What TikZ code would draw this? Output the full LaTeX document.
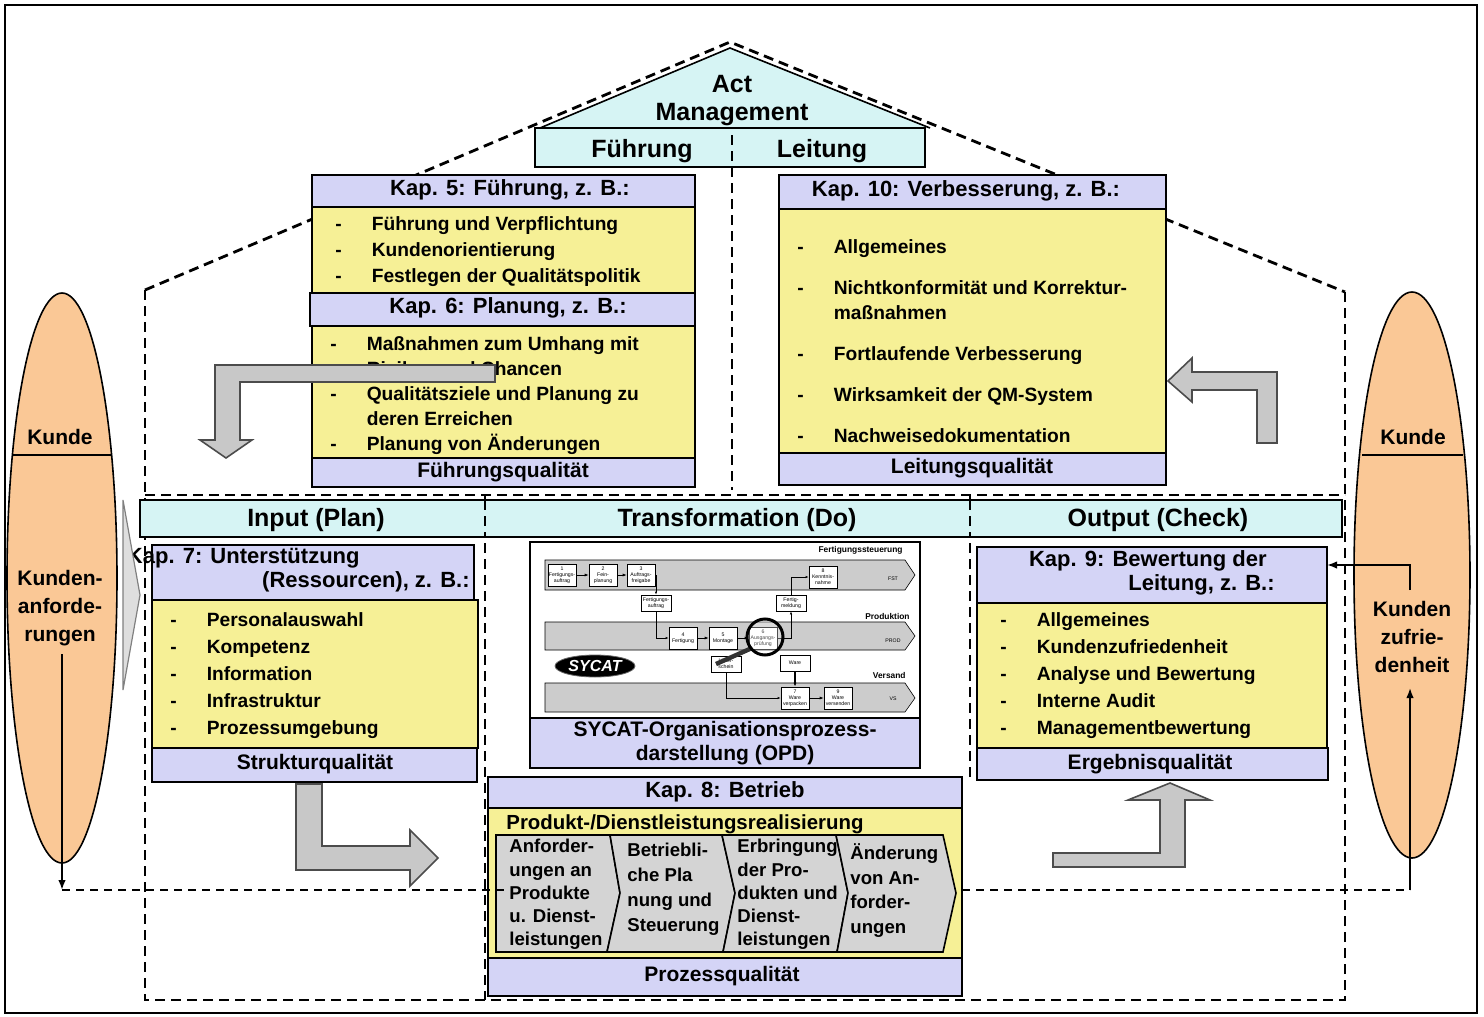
\documentclass[tikz,border=0pt]{standalone}
\usepackage{fontspec}
\setmainfont{Liberation Sans}
\usetikzlibrary{arrows.meta,shapes.geometric}
\definecolor{qmcyan}{RGB}{214,244,244}
\definecolor{qmlav}{RGB}{212,212,246}
\definecolor{qmyel}{RGB}{246,240,150}
\definecolor{qmorange}{RGB}{250,200,150}
\definecolor{qmgrey}{RGB}{200,200,200}
\newcommand{\hdrfont}{\fontsize{11}{12}\selectfont\bfseries}
\newcommand{\itemfont}{\fontsize{9.6}{13}\selectfont\bfseries}
\newcommand{\tinyfont}{\fontsize{2.6}{3}\selectfont}
\begin{document}
\begin{tikzpicture}[
    x=0.5pt, y=-0.5pt,
    box/.style={draw, line width=0.8pt},
    hdr/.style={box, fill=qmlav},
    body/.style={box, fill=qmyel},
    band/.style={box, fill=qmcyan},
    txt/.style={font=\hdrfont, inner sep=0pt},
    items/.style={font=\itemfont, inner sep=0pt, align=left, anchor=north west},
    dsh/.style={line width=1.4pt, dash pattern=on 5pt off 3pt},
    blockarrow/.style={draw=black!70, fill=qmgrey, line width=0.8pt},
    lane/.style={draw, fill=black!20, line width=0.3pt},
    opstep/.style={draw, fill=white, line width=0.3pt, font=\tinyfont, align=center, inner sep=0.5pt, minimum width=14pt, minimum height=11pt},
    docu/.style={draw, fill=white, line width=0.3pt, font=\tinyfont, align=center, inner sep=0.5pt, minimum width=15pt, minimum height=8pt},
    chev/.style={draw, fill=black!17, line width=0.8pt},
    feed/.style={line width=0.8pt}
]
\useasboundingbox (0,0) rectangle (1484,1017);
\draw[line width=1.2pt] (5,5) rectangle (1477,1013);

% House frame
\draw[dsh] (145,290) -- (730,42) -- (1345,292);
\draw[dsh] (145,290) -- (145,1000) -- (1345,1000) -- (1345,292);
\draw[dsh] (145,495) -- (1345,495);
\draw[dsh] (485,495) -- (485,1000);
\draw[dsh] (970,495) -- (970,780);

% Roof
\fill[qmcyan] (540,128) -- (730,48) -- (930,128) -- cycle;
\draw[line width=0.8pt] (540,128) -- (730,48) -- (930,128);
\node[txt, font=\fontsize{12.5}{14}\selectfont\bfseries] (act) at (732,84) {Act};
\node[txt, font=\fontsize{12.5}{14}\selectfont\bfseries] (mgmt) at (732,115) {Management};
\draw[band] (535,128) rectangle (925,167);
\node[txt, font=\fontsize{12.5}{14}\selectfont\bfseries] (fuehrung) at (642,151) {Führung};
\node[txt, font=\fontsize{12.5}{14}\selectfont\bfseries] (leitung) at (822,151) {Leitung};
\draw[dsh] (732,135) -- (732,490);

% Kap. 5 and 6
\draw[hdr] (312,175) rectangle (695,207);
\node[txt] (k5) at (510,190) {Kap. 5: Führung, z. B.:};
\draw[body] (312,207) rectangle (695,293);
\node[items] (k5items) at (335,212) {\begin{tabular}{@{}l@{\hspace{15pt}}l@{}}
- & Führung und Verpflichtung\\
- & Kundenorientierung\\
- & Festlegen der Qualitätspolitik
\end{tabular}};
\draw[hdr] (310,293) rectangle (695,326);
\node[txt] (k6) at (508,308) {Kap. 6: Planung, z. B.:};
\draw[body] (312,326) rectangle (695,458);
\node[items, font=\fontsize{9.6}{12.6}\selectfont\bfseries] (k6items) at (330,332) {\begin{tabular}{@{}l@{\hspace{15pt}}l@{}}
- & Maßnahmen zum Umhang mit\\
  & Risiken und Chancen\\
- & Qualitätsziele und Planung zu\\
  & deren Erreichen\\
- & Planung von Änderungen
\end{tabular}};
\draw[hdr] (312,458) rectangle (695,487);
\node[txt, font=\fontsize{10.5}{12}\selectfont\bfseries] (fq) at (503,472) {Führungsqualität};

% Kap. 10
\draw[hdr] (779,175) rectangle (1166,209);
\node[txt] (k10) at (966,191) {Kap. 10: Verbesserung, z. B.:};
\draw[body] (779,209) rectangle (1166,453);
\node[items, font=\fontsize{9.6}{20.5}\selectfont\bfseries] (k10items) at (797,224) {\begin{tabular}{@{}l@{\hspace{15pt}}l@{}}
- & Allgemeines\\
- & Nichtkonformität und Korrektur-\\[-8pt]
  & maßnahmen\\
- & Fortlaufende Verbesserung\\
- & Wirksamkeit der QM-System\\
- & Nachweisedokumentation
\end{tabular}};
\draw[hdr] (779,453) rectangle (1166,485);
\node[txt, font=\fontsize{10.5}{12}\selectfont\bfseries] (lq) at (972,468) {Leitungsqualität};

% Grey block arrows
\draw[blockarrow] (495,365) -- (495,382) -- (240,382) -- (240,440) -- (252,440) -- (226,458)
  -- (200,440) -- (215,440) -- (215,365) -- cycle;
\draw[blockarrow] (1277,443) -- (1257,443) -- (1257,390) -- (1192,390) -- (1192,402) -- (1168,381)
  -- (1192,358) -- (1192,372) -- (1277,372) -- cycle;
\draw[blockarrow] (296,784) -- (322,784) -- (322,846) -- (410,846) -- (410,830) -- (438,858)
  -- (410,886) -- (410,870) -- (296,870) -- cycle;
\draw[blockarrow] (1053,853) -- (1160,853) -- (1160,800) -- (1128,800) -- (1170,783)
  -- (1210,800) -- (1185,800) -- (1185,867) -- (1053,867) -- cycle;

% Middle band
\draw[band] (140,500) rectangle (1342,537);
\draw[dsh] (485,500) -- (485,537);
\draw[dsh] (970,500) -- (970,537);
\node[txt, font=\fontsize{12.5}{14}\selectfont\bfseries] (input) at (316,520) {Input (Plan)};
\node[txt, font=\fontsize{12.5}{14}\selectfont\bfseries] (trans) at (737,520) {Transformation (Do)};
\node[txt, font=\fontsize{12.5}{14}\selectfont\bfseries] (output) at (1158,520) {Output (Check)};

% Kap. 7
\draw[hdr] (152,545) rectangle (474,600);
\node[txt, align=right, anchor=north east] (k7) at (470,548) {\makebox[0pt][r]{Kap. 7: Unterstützung\hspace{55pt}}\\ (Ressourcen), z. B.:};
\draw[body] (152,600) rectangle (478,748);
\node[items, font=\fontsize{9.6}{13.5}\selectfont\bfseries] (k7items) at (170,607) {\begin{tabular}{@{}l@{\hspace{15pt}}l@{}}
- & Personalauswahl\\
- & Kompetenz\\
- & Information\\
- & Infrastruktur\\
- & Prozessumgebung
\end{tabular}};
\draw[hdr] (152,748) rectangle (477,782);
\node[txt, font=\fontsize{10.5}{12}\selectfont\bfseries] (sq) at (315,764) {Strukturqualität};

% SYCAT picture
\draw[box, fill=white] (530,542) rectangle (920,718);
\draw[lane] (545,560) -- (905,560) -- (915,575) -- (905,590) -- (545,590) -- cycle;
\draw[lane] (545,622) -- (905,622) -- (915,636) -- (905,650) -- (545,650) -- cycle;
\draw[lane] (545,683) -- (905,683) -- (915,698) -- (905,712) -- (545,712) -- cycle;
\node[font=\fontsize{4.2}{5}\selectfont\bfseries, anchor=east, inner sep=0pt] (fst) at (903,550) {Fertigungssteuerung};
\node[font=\fontsize{4.2}{5}\selectfont\bfseries, anchor=east, inner sep=0pt] (prod) at (910,616) {Produktion};
\node[font=\fontsize{4.2}{5}\selectfont\bfseries, anchor=east, inner sep=0pt] (vs) at (906,675) {Versand};
\node[font=\tinyfont] (fstl) at (893,579) {FST};
\node[font=\tinyfont] (prodl) at (893,641) {PROD};
\node[font=\tinyfont] (vsl) at (893,699) {VS};
\node[opstep] (s1) at (562,575) {1\\Fertigungs-\\auftrag};
\node[opstep] (s2) at (603,575) {2\\Fein-\\planung};
\node[opstep] (s3) at (641,575) {3\\Auftrags-\\freigabe};
\node[opstep] (s8) at (823,577) {8\\Kenntnis-\\nahme};
\node[opstep] (s4) at (683,638) {4\\Fertigung};
\node[opstep] (s5) at (723,638) {5\\Montage};
\node[opstep] (s6) at (763,638) {6\\Ausgangs-\\prüfung};
\node[opstep] (s7) at (795,698) {7\\Ware\\verpacken};
\node[opstep] (s9) at (838,698) {9\\Ware\\versenden};
\node[docu] (d1) at (656,603) {Fertigungs-\\auftrag};
\node[docu] (d2) at (791,603) {Fertig-\\meldung};
\node[docu] (d3) at (726,664) {Liefer-\\schein};
\node[docu] (d4) at (795,663) {Ware};
\draw[-{Latex[length=2pt]}, line width=0.3pt] (s1) -- (s2);
\draw[-{Latex[length=2pt]}, line width=0.3pt] (s2) -- (s3);
\draw[-{Latex[length=2pt]}, line width=0.3pt] (s4) -- (s5);
\draw[-{Latex[length=2pt]}, line width=0.3pt] (s5) -- (s6);
\draw[-{Latex[length=2pt]}, line width=0.3pt] (s7) -- (s9);
\draw[-{Latex[length=1.5pt]}, line width=0.3pt] (s3.east) -| (d1.north);
\draw[-{Latex[length=1.5pt]}, line width=0.3pt] (d1.south) |- (s4.west);
\draw[-{Latex[length=1.5pt]}, line width=0.3pt] (d2.north) |- (s8.west);
\draw[-{Latex[length=1.5pt]}, line width=0.3pt] (s6.east) -| (d2.south);
\draw[-{Latex[length=1.5pt]}, line width=0.3pt] (d3.south) |- (s7.west);
\draw[-{Latex[length=2pt]}, line width=0.6pt] (d4.south) -- (s7.north);
\draw[line width=2.2pt, black!80] (752,648) -- (716,664);
\draw[line width=1.5pt, fill=white, fill opacity=0.3] (765,637) circle[radius=9pt];
\node[ellipse, fill=black, draw=black!60, minimum width=40pt, minimum height=11pt, inner sep=0pt,
  text=white, font=\fontsize{8}{9}\selectfont\bfseries\itshape] (sycat) at (595,666) {SYCAT};
\draw[hdr] (530,718) rectangle (920,768);
\node[txt, align=center, font=\fontsize{10.5}{12}\selectfont\bfseries] (opd) at (725,743) {SYCAT-Organisationsprozess-\\darstellung (OPD)};

% Kap. 8
\draw[hdr] (488,777) rectangle (962,808);
\node[txt] (k8) at (725,792) {Kap. 8: Betrieb};
\draw[body] (488,808) rectangle (962,958);
\node[txt, anchor=west, font=\fontsize{10.2}{12}\selectfont\bfseries] (real) at (506,824) {Produkt-/Dienstleistungsrealisierung};
\draw[chev] (496,835) -- (610,835) -- (620,893) -- (607,952) -- (496,952) -- cycle;
\draw[chev] (610,835) -- (722,835) -- (735,893) -- (723,952) -- (607,952) -- (620,893) -- cycle;
\draw[chev] (722,835) -- (836,835) -- (848,893) -- (837,952) -- (723,952) -- (735,893) -- cycle;
\draw[chev] (836,835) -- (943,835) -- (956,893) -- (943,952) -- (837,952) -- (848,893) -- cycle;
\node[items, font=\fontsize{9.3}{11.6}\selectfont\bfseries] (c1) at (509,839) {Anforder-\\ungen an\\Produkte\\u. Dienst-\\leistungen};
\node[items, font=\fontsize{9.3}{12.4}\selectfont\bfseries] (c2) at (627,843) {Betriebli-\\che Pla\\nung und\\Steuerung};
\node[items, font=\fontsize{9.3}{11.6}\selectfont\bfseries] (c3) at (737,839) {Erbringung\\der Pro-\\dukten und\\Dienst-\\leistungen};
\node[items, font=\fontsize{9.3}{12.4}\selectfont\bfseries] (c4) at (850,843) {Änderung\\von An-\\forder-\\ungen};
\draw[hdr] (488,958) rectangle (962,996);
\node[txt, font=\fontsize{10.5}{12}\selectfont\bfseries] (pq) at (722,976) {Prozessqualität};

% Kap. 9
\draw[hdr] (977,547) rectangle (1327,603);
\node[txt, align=right, anchor=north east] (k9) at (1275,550) {\makebox[0pt][r]{Kap. 9: Bewertung der\hspace{4pt}}\\ Leitung, z. B.:};
\draw[body] (977,603) rectangle (1327,748);
\node[items, font=\fontsize{9.6}{13.5}\selectfont\bfseries] (k9items) at (1000,607) {\begin{tabular}{@{}l@{\hspace{15pt}}l@{}}
- & Allgemeines\\
- & Kundenzufriedenheit\\
- & Analyse und Bewertung\\
- & Interne Audit\\
- & Managementbewertung
\end{tabular}};
\draw[hdr] (977,748) rectangle (1328,780);
\node[txt, font=\fontsize{10.5}{12}\selectfont\bfseries] (eq) at (1150,764) {Ergebnisqualität};

% Customers
\node[ellipse, draw, fill=qmorange, line width=0.8pt, minimum width=55pt, minimum height=285pt, inner sep=0pt] (kl) at (62,578) {};
\node[ellipse, draw, fill=qmorange, line width=0.8pt, minimum width=58pt, minimum height=283pt, inner sep=0pt] (kr) at (1412,575) {};
\draw[line width=0.8pt] (12,455) -- (112,455);
\draw[line width=0.8pt] (1362,455) -- (1463,455);
\node[txt, font=\fontsize{10.5}{12}\selectfont\bfseries] (kundel) at (60,437) {Kunde};
\node[txt, font=\fontsize{10.5}{12}\selectfont\bfseries] (kunder) at (1413,437) {Kunde};
\node[txt, align=center, font=\fontsize{10.5}{14}\selectfont\bfseries] (anf) at (60,608) {Kunden-\\anforde-\\rungen};
\node[txt, align=center, font=\fontsize{10.5}{14}\selectfont\bfseries] (zuf) at (1412,637) {Kunden\\zufrie-\\denheit};
\draw[draw=black!50, fill=qmgrey!60, line width=0.6pt] (123,500) -- (140,595) -- (123,690) -- cycle;

% Feedback loop
\coordinate (fl) at (62,890);
\coordinate (fr) at (1410,890);
\draw[feed, -{Latex[length=5pt]}] (anf.south -| fl) ++(0,8) -- (fl);
\draw[feed, dash pattern=on 4pt off 3pt] (fl) -- (c1.west |- fl);
\draw[feed, dash pattern=on 4pt off 3pt] (962,890) -- (fr);
\draw[feed, -{Latex[length=5pt]}] (fr) -- (1410,688);
\draw[feed, -{Latex[length=5pt]}] (1410,590) -- (1410,565) -- (1327,565);
\end{tikzpicture}
\end{document}
